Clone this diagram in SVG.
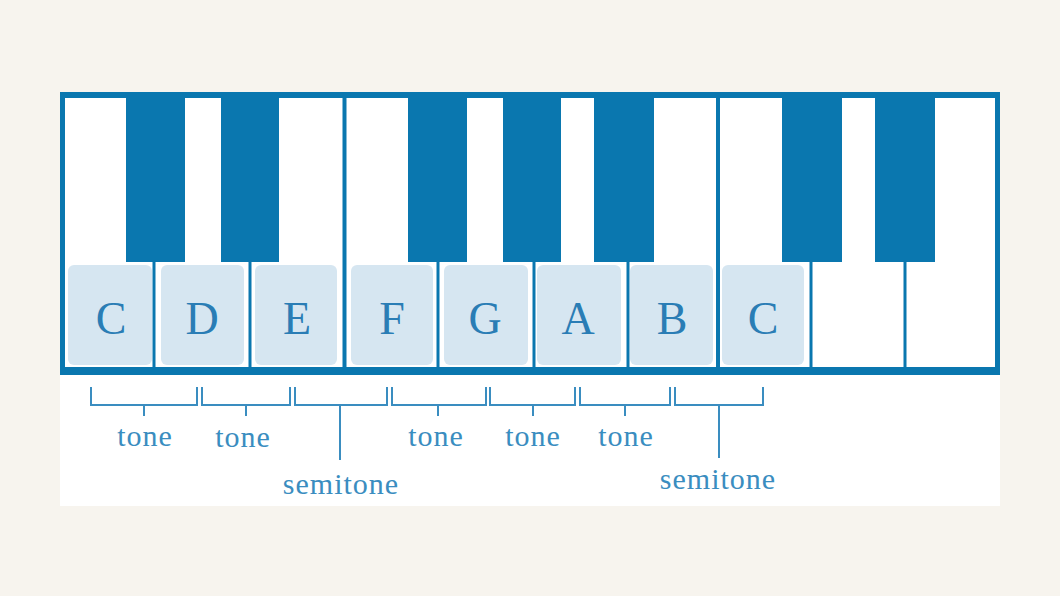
<svg xmlns="http://www.w3.org/2000/svg" width="1060" height="596" viewBox="0 0 1060 596">
<style>
.blk{fill:#0a77af}
.div{stroke:#0a77af;stroke-width:3}
.box{fill:#d6e6f1}
.note{font-family:"Liberation Serif",serif;font-size:46px;fill:#2a7db5;text-anchor:middle}
.lbl{font-family:"Liberation Serif",serif;font-size:30px;fill:#3a8dc0;text-anchor:middle;letter-spacing:1px}
.br{fill:none;stroke:#3a8dc0;stroke-width:2}
</style>
<rect width="1060" height="596" fill="#f7f4ee"/>
<rect x="60" y="92" width="940" height="414" fill="#ffffff"/>
<g id="keyboard">
<rect x="60" y="92" width="940" height="283" class="blk"/>
<rect x="65" y="98" width="930" height="269" fill="#ffffff"/>
<line class="div" x1="154" y1="98" x2="154" y2="367"/>
<line class="div" x1="250" y1="98" x2="250" y2="367"/>
<line class="div" x1="344.5" y1="98" x2="344.5" y2="367" style="stroke-width:4"/>
<line class="div" x1="438" y1="98" x2="438" y2="367"/>
<line class="div" x1="534" y1="98" x2="534" y2="367"/>
<line class="div" x1="628" y1="98" x2="628" y2="367"/>
<line class="div" x1="718" y1="98" x2="718" y2="367" style="stroke-width:4"/>
<line class="div" x1="811" y1="98" x2="811" y2="367"/>
<line class="div" x1="905" y1="98" x2="905" y2="367"/>
<rect class="blk" x="126" y="92" width="59" height="170"/>
<rect class="blk" x="221" y="92" width="58" height="170"/>
<rect class="blk" x="408" y="92" width="59" height="170"/>
<rect class="blk" x="503" y="92" width="58" height="170"/>
<rect class="blk" x="594" y="92" width="60" height="170"/>
<rect class="blk" x="782" y="92" width="60" height="170"/>
<rect class="blk" x="875" y="92" width="60" height="170"/>
</g>
<g id="key-C"><rect class="box" x="68" y="265" width="84" height="100" rx="6"/><text class="note" x="111" y="334">C</text></g>
<g id="key-D"><rect class="box" x="161" y="265" width="83" height="100" rx="6"/><text class="note" x="202" y="334">D</text></g>
<g id="key-E"><rect class="box" x="255" y="265" width="82" height="100" rx="6"/><text class="note" x="297" y="334">E</text></g>
<g id="key-F"><rect class="box" x="351" y="265" width="82" height="100" rx="6"/><text class="note" x="392" y="334">F</text></g>
<g id="key-G"><rect class="box" x="444" y="265" width="84" height="100" rx="6"/><text class="note" x="485" y="334">G</text></g>
<g id="key-A"><rect class="box" x="537" y="265" width="84" height="100" rx="6"/><text class="note" x="578" y="334">A</text></g>
<g id="key-B"><rect class="box" x="630" y="265" width="83" height="100" rx="6"/><text class="note" x="672" y="334">B</text></g>
<g id="key-C2"><rect class="box" x="722" y="265" width="82" height="100" rx="6"/><text class="note" x="763" y="334">C</text></g>
<g id="connectors">
<path class="br" d="M91 387V405H197V387M144 405V416"/>
<path class="br" d="M202 387V405H290V387M246 405V416"/>
<path class="br" d="M295 387V405H387V387M340 405V460"/>
<path class="br" d="M392 387V405H486V387M438 405V416"/>
<path class="br" d="M490 387V405H575V387M533 405V416"/>
<path class="br" d="M580 387V405H670V387M625 405V416"/>
<path class="br" d="M675 387V405H763V387M719 405V458"/>
</g>
<g id="labels">
<text class="lbl" x="145" y="446">tone</text>
<text class="lbl" x="243" y="447">tone</text>
<text class="lbl" x="341" y="494">semitone</text>
<text class="lbl" x="436" y="446">tone</text>
<text class="lbl" x="533" y="446">tone</text>
<text class="lbl" x="626" y="446">tone</text>
<text class="lbl" x="718" y="489">semitone</text>
</g>
</svg>
